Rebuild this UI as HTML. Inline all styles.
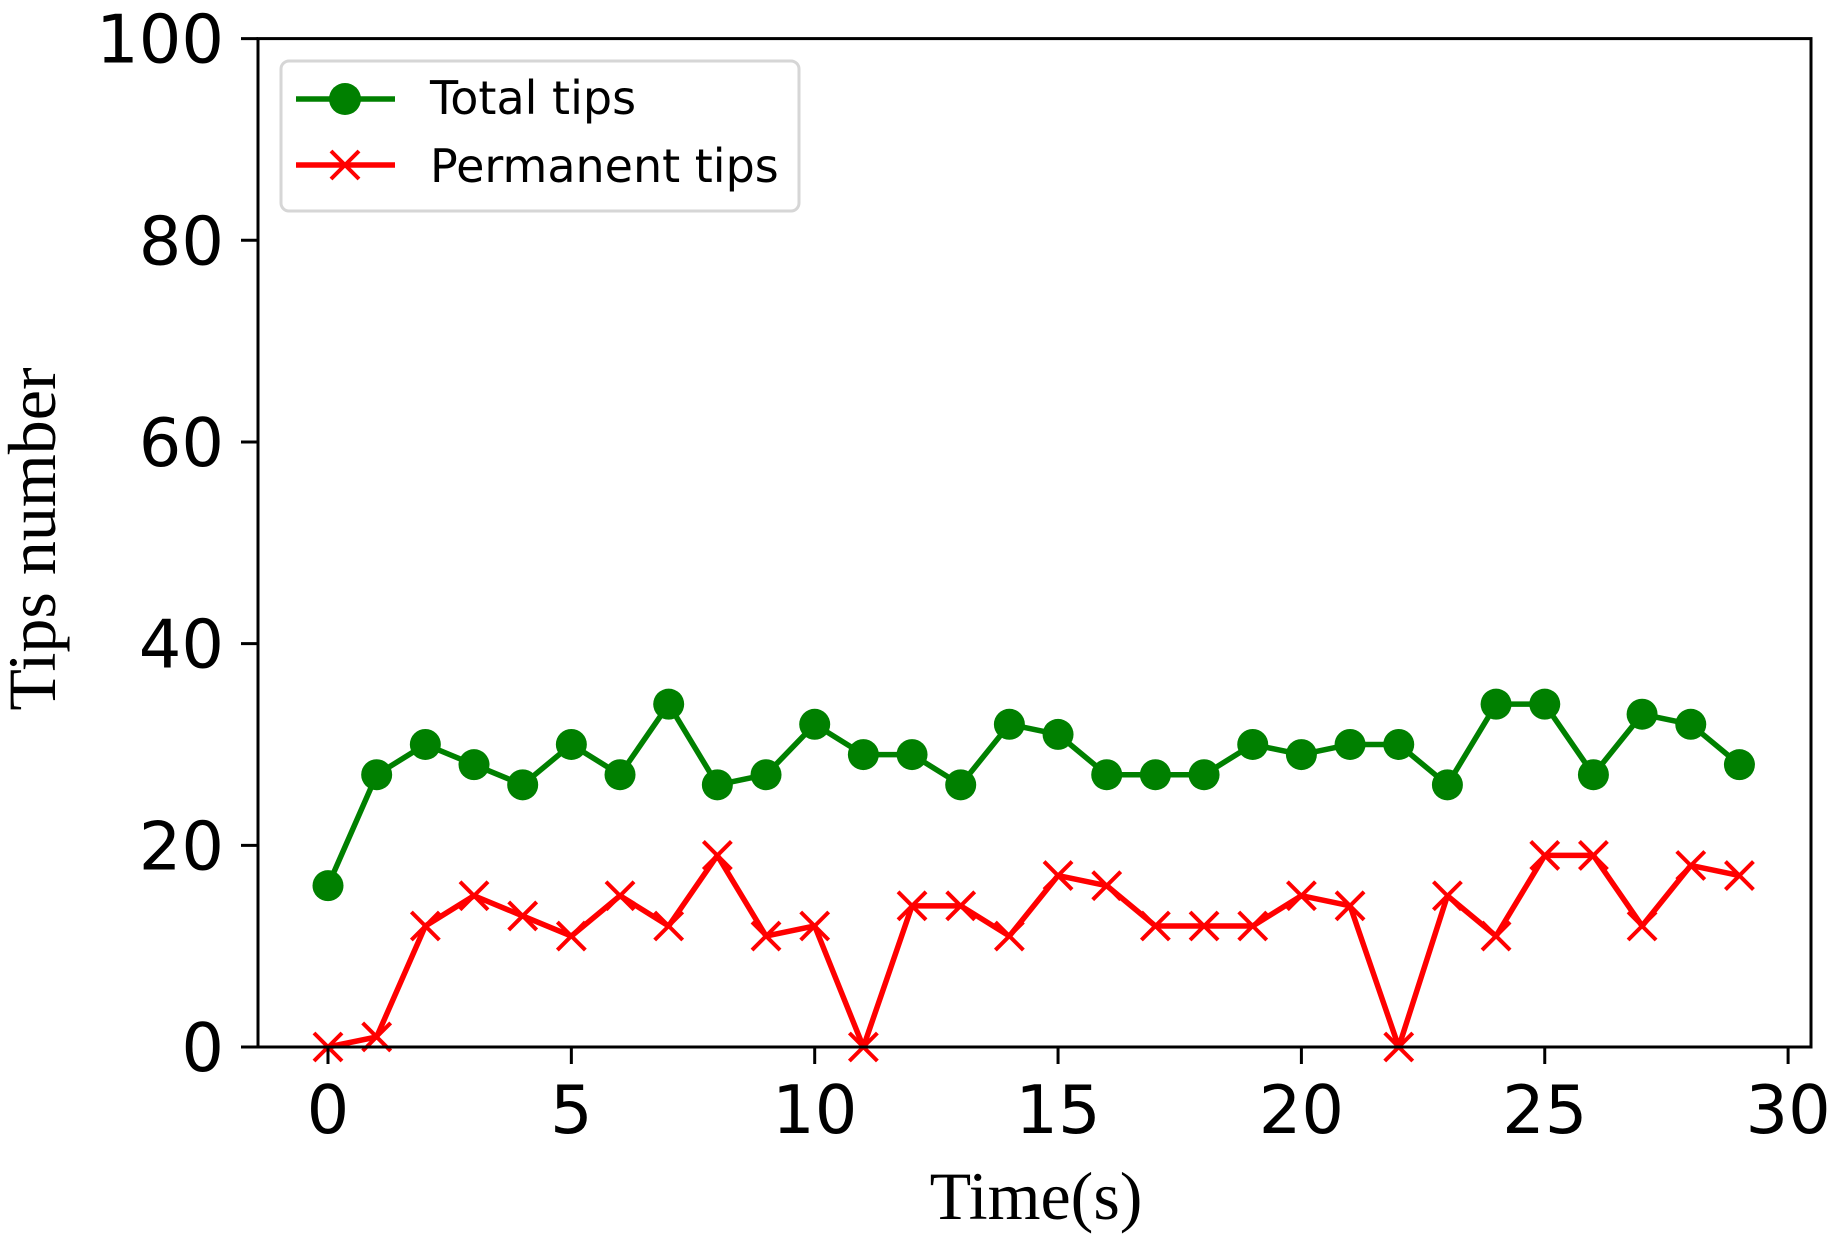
<!DOCTYPE html>
<html><head><meta charset="utf-8"><style>html,body{margin:0;padding:0;background:#fff}svg{display:block}</style></head>
<body>
<svg width="1836" height="1240" viewBox="0 0 1836 1240" xmlns="http://www.w3.org/2000/svg">
<rect width="1836" height="1240" fill="#fff"/>
<g id="plot"></g>
<g stroke="#000" stroke-width="3" fill="none">
<rect x="258" y="38.6" width="1553" height="1008.4"/>
</g>
<g id="ticks" stroke="#000" stroke-width="3"></g>
<g font-family="DejaVu Sans, sans-serif" font-size="67" fill="#000" id="labels"></g>
<text x="1036" y="1219" font-family="Liberation Serif, serif" font-size="68" text-anchor="middle">Time(s)</text>
<text transform="translate(55,539) rotate(-90)" font-family="Liberation Serif, serif" font-size="68" text-anchor="middle">Tips number</text>
<rect x="281" y="61" width="518" height="150" rx="8" fill="#fff" fill-opacity="0.8" stroke="#d6d6d6" stroke-width="3"/>
<line x1="296" y1="99" x2="395" y2="99" stroke="#008000" stroke-width="5.5"/>
<circle cx="345" cy="99" r="16" fill="#008000"/>
<line x1="296" y1="165" x2="395" y2="165" stroke="#ff0000" stroke-width="5.5"/>
<path d="M331 151L359 179M331 179L359 151" stroke="#ff0000" stroke-width="4"/>
<text x="430" y="114" font-family="DejaVu Sans, sans-serif" font-size="46">Total tips</text>
<text x="430" y="182" font-family="DejaVu Sans, sans-serif" font-size="46">Permanent tips</text>
<script>
(function(){
var ns="http://www.w3.org/2000/svg";
function X(t){return 328+t*48.67;}function Y(v){return 1047-v*10.084;}
var g=[16,27,30,28,26,30,27,34,26,27,32,29,29,26,32,31,27,27,27,30,29,30,30,26,34,34,27,33,32,28];
var r=[0,1,12,15,13,11,15,12,19,11,12,0,14,14,11,17,16,12,12,12,15,14,0,15,11,19,19,12,18,17];
var p=document.getElementById("plot");
function el(n,a){var e=document.createElementNS(ns,n);for(var k in a)e.setAttribute(k,a[k]);return e;}
p.appendChild(el("polyline",{points:g.map(function(v,i){return X(i)+","+Y(v)}).join(" "),fill:"none",stroke:"#008000","stroke-width":5.5,"stroke-linejoin":"round"}));
g.forEach(function(v,i){p.appendChild(el("circle",{cx:X(i),cy:Y(v),r:15.5,fill:"#008000"}));});
p.appendChild(el("polyline",{points:r.map(function(v,i){return X(i)+","+Y(v)}).join(" "),fill:"none",stroke:"#ff0000","stroke-width":5.5,"stroke-linejoin":"round"}));
r.forEach(function(v,i){var x=X(i),y=Y(v),s=14;p.appendChild(el("path",{d:"M"+(x-s)+" "+(y-s)+"L"+(x+s)+" "+(y+s)+"M"+(x-s)+" "+(y+s)+"L"+(x+s)+" "+(y-s),stroke:"#ff0000","stroke-width":4}));});
var t=document.getElementById("ticks"),l=document.getElementById("labels");
for(var v=0;v<=100;v+=20){var y=Y(v);t.appendChild(el("line",{x1:241,y1:y,x2:258,y2:y}));var e=el("text",{x:224,y:y+24,"text-anchor":"end"});e.textContent=v;l.appendChild(e);}
for(var k=0;k<=30;k+=5){var x=X(k);t.appendChild(el("line",{x1:x,y1:1047,x2:x,y2:1064}));var e2=el("text",{x:x,y:1133,"text-anchor":"middle"});e2.textContent=k;l.appendChild(e2);}
})();
</script>
</svg>
</body></html>
